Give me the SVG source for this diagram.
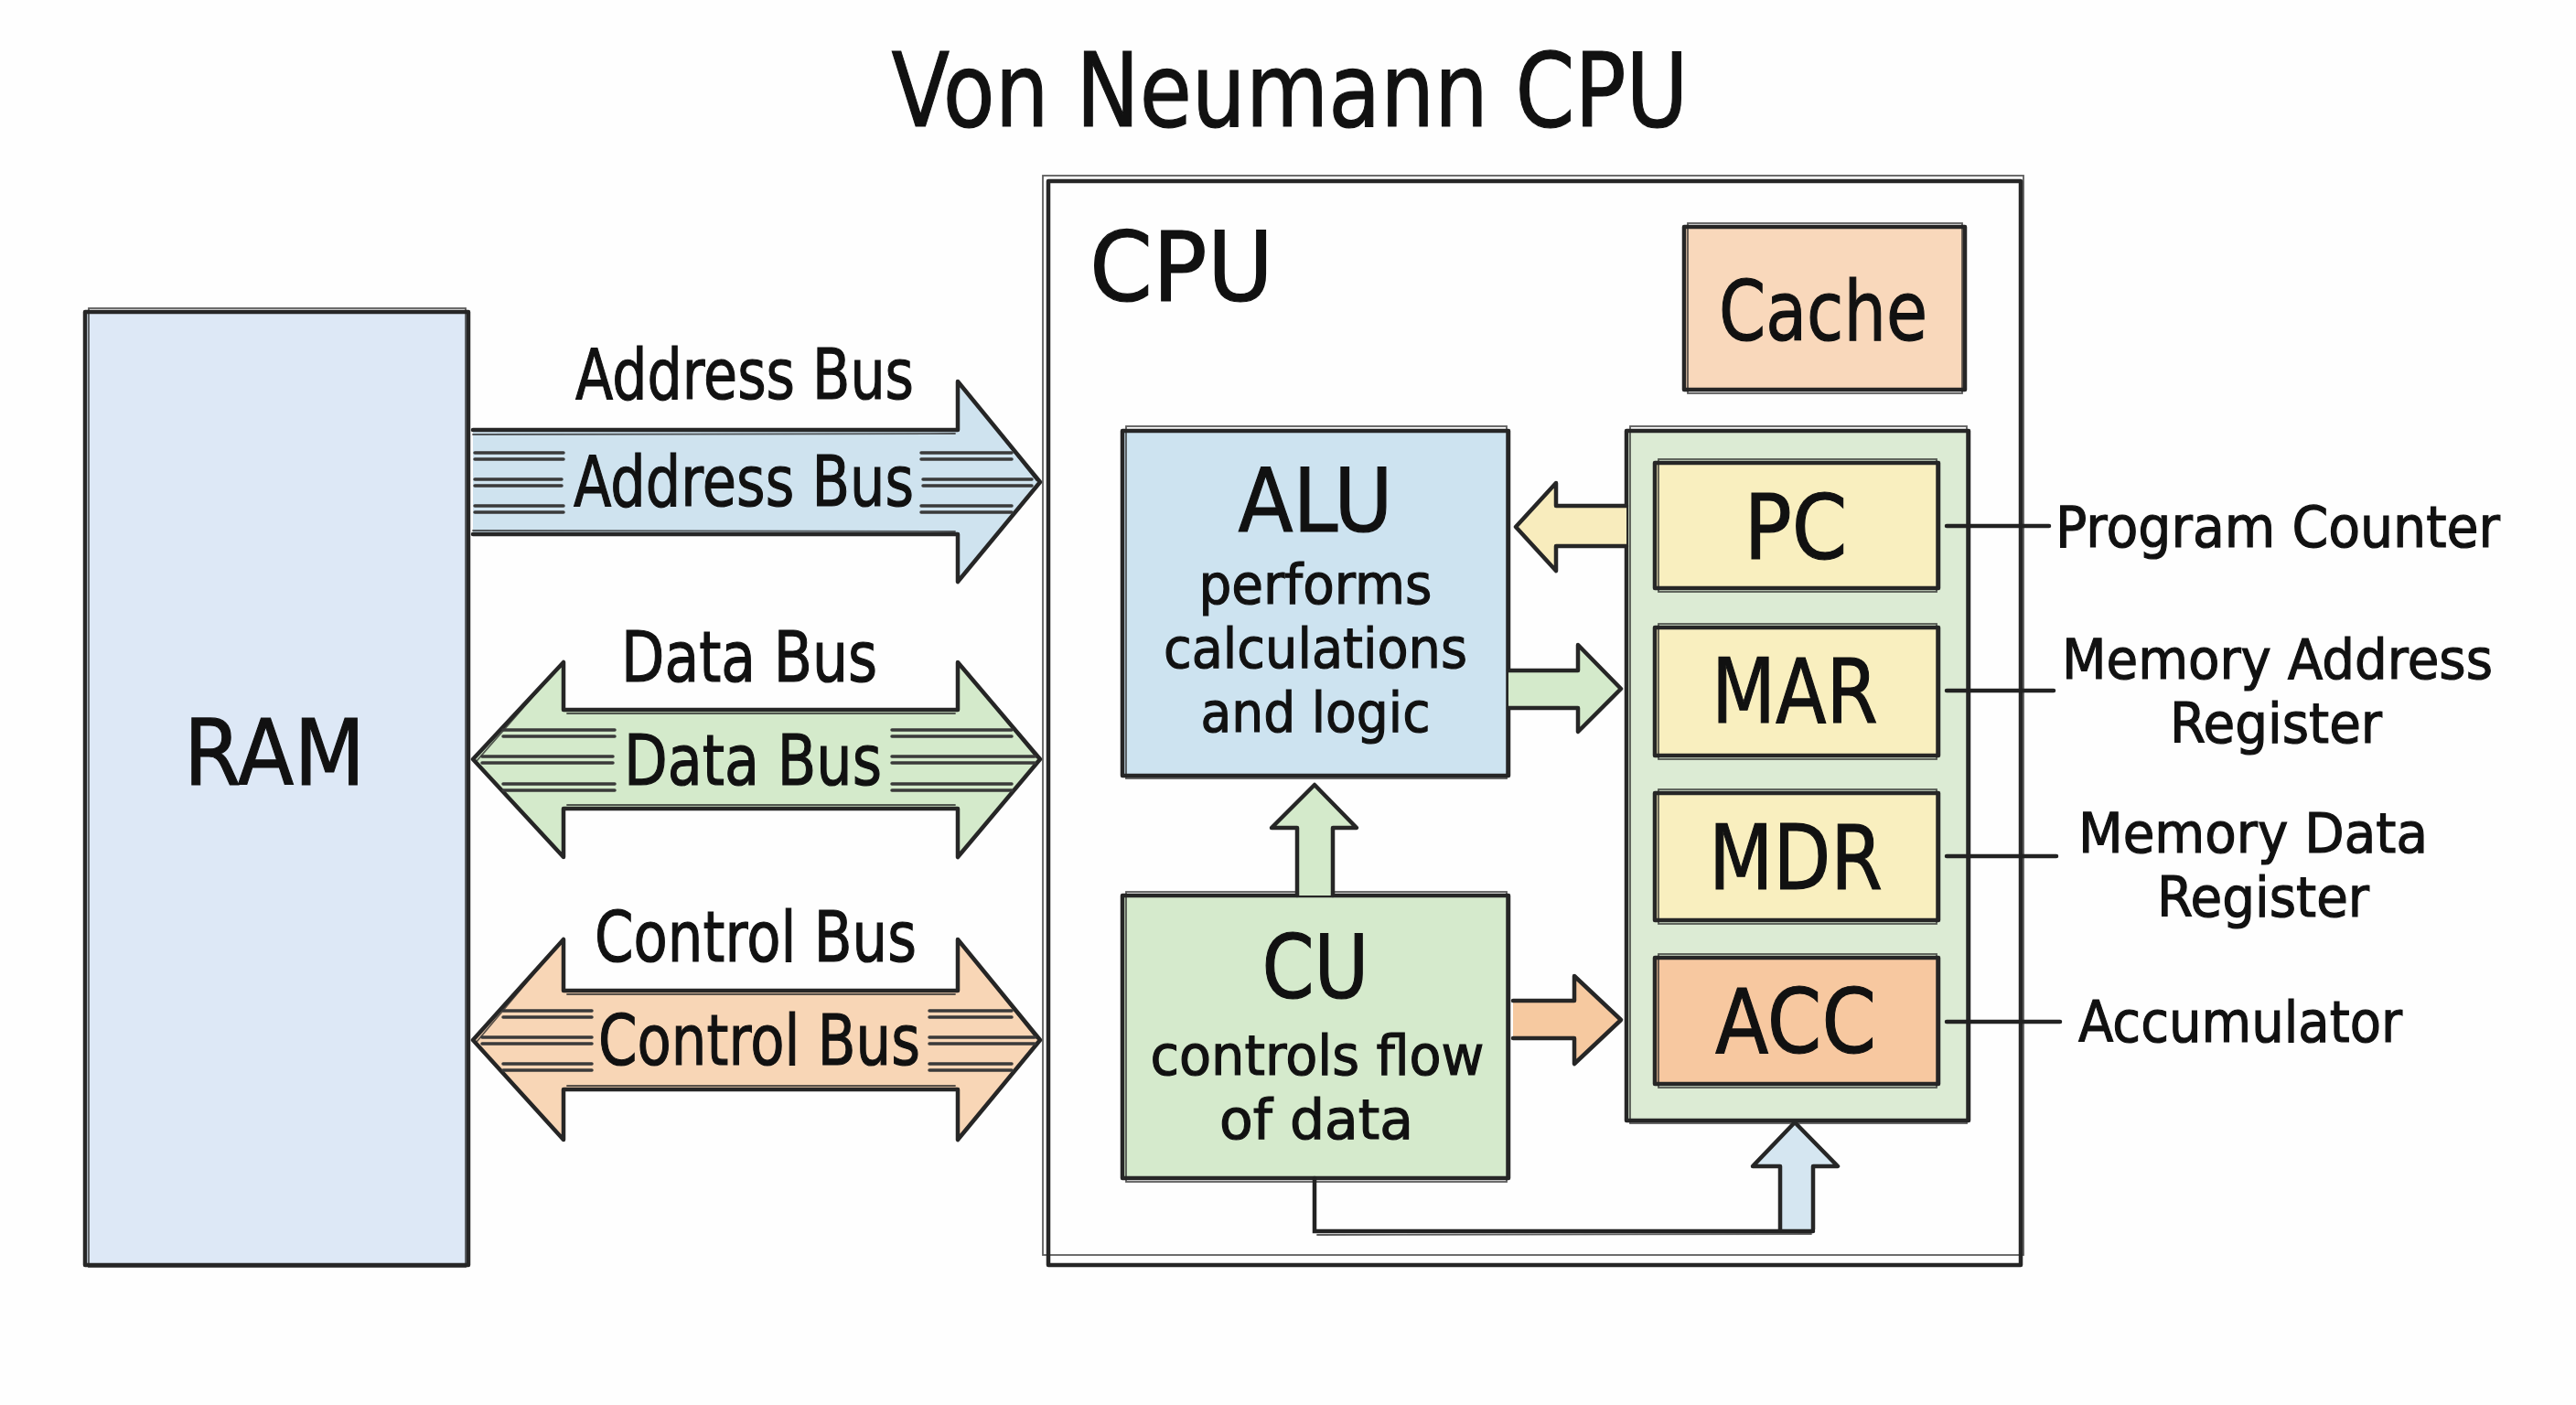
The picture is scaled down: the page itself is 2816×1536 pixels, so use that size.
<svg xmlns="http://www.w3.org/2000/svg" width="2816" height="1536" viewBox="0 0 2816 1536">
<defs>
<style>
.t{font-family:"DejaVu Sans","Open Sans",sans-serif;fill:#111;font-weight:normal;stroke:#111;stroke-width:1.2}
.sk{stroke:#262626;stroke-width:4.5;stroke-linejoin:round;stroke-linecap:round}
.sk2{fill:none;stroke:#262626;stroke-width:1.8;opacity:.75;stroke-linecap:round}
.st{stroke:#3a3a3a;stroke-width:3.5;stroke-linecap:round}
.ln{fill:none;stroke:#222;stroke-width:4.5;stroke-linecap:round}
</style>
</defs>
<rect width="2816" height="1536" fill="#fefefe"/>
<text class="t" x="1410" y="138" font-size="112" text-anchor="middle" textLength="871" lengthAdjust="spacingAndGlyphs">Von Neumann CPU</text>

<g id="ram">
<rect x="93" y="341" width="419" height="1042" fill="#dde8f6" class="sk"/>
<rect x="97" y="337" width="412" height="1048" class="sk2"/>
<text class="t" x="300" y="858" font-size="100" text-anchor="middle" textLength="198" lengthAdjust="spacingAndGlyphs">RAM</text>
</g>

<g id="cpu">
<rect x="1146" y="198" width="1063" height="1185" fill="none" class="sk"/>
<rect x="1140" y="192" width="1072" height="1180" class="sk2"/>
<text class="t" x="1191" y="329" font-size="105" textLength="201" lengthAdjust="spacingAndGlyphs">CPU</text>
</g>

<g id="cache">
<rect x="1841" y="248" width="307" height="178" fill="#f9d8bb" class="sk"/>
<rect x="1845" y="244" width="300" height="186" class="sk2"/>
<text class="t" x="1993" y="372" font-size="90" text-anchor="middle" textLength="228" lengthAdjust="spacingAndGlyphs">Cache</text>
</g>

<g id="registers">
<rect x="1778" y="471" width="374" height="754" fill="#dcebd4" class="sk"/>
<rect x="1782" y="466" width="368" height="762" class="sk2"/>
</g>

<g id="pc">
<rect x="1809" y="506" width="310" height="137" fill="#f9efbf" class="sk"/>
<rect x="1813" y="502" width="304" height="145" class="sk2"/>
<text class="t" x="1963" y="611" font-size="98" text-anchor="middle" textLength="113" lengthAdjust="spacingAndGlyphs">PC</text>
</g>
<g id="mar">
<rect x="1809" y="686" width="310" height="140" fill="#f9efbf" class="sk"/>
<rect x="1813" y="682" width="304" height="148" class="sk2"/>
<text class="t" x="1962" y="790" font-size="98" text-anchor="middle" textLength="182" lengthAdjust="spacingAndGlyphs">MAR</text>
</g>
<g id="mdr">
<rect x="1809" y="867" width="310" height="139" fill="#f9efbf" class="sk"/>
<rect x="1813" y="863" width="304" height="147" class="sk2"/>
<text class="t" x="1963" y="972" font-size="98" text-anchor="middle" textLength="190" lengthAdjust="spacingAndGlyphs">MDR</text>
</g>
<g id="acc">
<rect x="1809" y="1047" width="310" height="138" fill="#f7c8a0" class="sk"/>
<rect x="1813" y="1043" width="304" height="146" class="sk2"/>
<text class="t" x="1963" y="1151" font-size="98" text-anchor="middle" textLength="176" lengthAdjust="spacingAndGlyphs">ACC</text>
</g>

<g id="alu">
<rect x="1227" y="471" width="422" height="377" fill="#cde3f0" class="sk"/>
<rect x="1231" y="466" width="416" height="385" class="sk2"/>
<text class="t" x="1438" y="581" font-size="96" text-anchor="middle" textLength="169" lengthAdjust="spacingAndGlyphs">ALU</text>
<text class="t" x="1438" y="660" font-size="60" text-anchor="middle" textLength="255" lengthAdjust="spacingAndGlyphs">performs</text>
<text class="t" x="1438" y="730" font-size="60" text-anchor="middle" textLength="332" lengthAdjust="spacingAndGlyphs">calculations</text>
<text class="t" x="1438" y="800" font-size="60" text-anchor="middle" textLength="251" lengthAdjust="spacingAndGlyphs">and logic</text>
</g>

<g id="cu">
<rect x="1227" y="979" width="422" height="309" fill="#d5eacc" class="sk"/>
<rect x="1231" y="975" width="416" height="317" class="sk2"/>
<text class="t" x="1438" y="1091" font-size="96" text-anchor="middle" textLength="117" lengthAdjust="spacingAndGlyphs">CU</text>
<text class="t" x="1440" y="1175" font-size="60" text-anchor="middle" textLength="365" lengthAdjust="spacingAndGlyphs">controls flow</text>
<text class="t" x="1439" y="1245" font-size="60" text-anchor="middle" textLength="212" lengthAdjust="spacingAndGlyphs">of data</text>
</g>

<g id="labels">
<text class="t" x="2247" y="598" font-size="62" textLength="486" lengthAdjust="spacingAndGlyphs">Program Counter</text>
<text class="t" x="2254" y="742" font-size="60" textLength="471" lengthAdjust="spacingAndGlyphs">Memory Address</text>
<text class="t" x="2372" y="812" font-size="60" textLength="232" lengthAdjust="spacingAndGlyphs">Register</text>
<text class="t" x="2272" y="932" font-size="60" textLength="382" lengthAdjust="spacingAndGlyphs">Memory Data</text>
<text class="t" x="2358" y="1002" font-size="60" textLength="232" lengthAdjust="spacingAndGlyphs">Register</text>
<text class="t" x="2272" y="1139" font-size="62" textLength="354" lengthAdjust="spacingAndGlyphs">Accumulator</text>
</g>

<g id="connectors">
<!-- Address bus -->
<path d="M517,470 L1047,470 L1047,417 L1137,527 L1047,636 L1047,584 L517,584 Z" fill="#cfe3ef"/>
<path d="M517,470 L1047,470 L1047,417 L1137,527 L1047,636 L1047,584 L517,584" fill="none" class="sk"/>
<path d="M517,475 L1044,474 M1050,420 L1133,525 M517,580 L1044,581" class="sk2"/>
<g class="st">
<line x1="519" y1="495" x2="616" y2="495"/><line x1="519" y1="502" x2="616" y2="502"/>
<line x1="519" y1="524" x2="614" y2="524"/><line x1="519" y1="531" x2="614" y2="531"/>
<line x1="519" y1="553" x2="616" y2="553"/><line x1="519" y1="560" x2="616" y2="560"/>
<line x1="1007" y1="495" x2="1106" y2="495"/><line x1="1007" y1="502" x2="1106" y2="502"/>
<line x1="1009" y1="524" x2="1128" y2="524"/><line x1="1009" y1="531" x2="1128" y2="531"/>
<line x1="1007" y1="553" x2="1106" y2="553"/><line x1="1007" y1="560" x2="1106" y2="560"/>
</g>
<text class="t" x="814" y="436" font-size="76" text-anchor="middle" textLength="370" lengthAdjust="spacingAndGlyphs">Address Bus</text>
<text class="t" x="813" y="553" font-size="76" text-anchor="middle" textLength="372" lengthAdjust="spacingAndGlyphs">Address Bus</text>

<!-- Data bus -->
<path d="M517,830 L616,724 L616,776 L1047,776 L1047,724 L1137,830 L1047,937 L1047,884 L616,884 L616,937 Z" fill="#d4eacb" class="sk"/>
<path d="M521,832 L612,728 M620,780 L1044,780 M1050,728 L1133,828 M620,880 L1044,880 M612,933 L521,834" class="sk2"/>
<g class="st">
<line x1="550" y1="798" x2="672" y2="798"/><line x1="550" y1="805" x2="672" y2="805"/>
<line x1="527" y1="827" x2="670" y2="827"/><line x1="527" y1="834" x2="670" y2="834"/>
<line x1="550" y1="857" x2="672" y2="857"/><line x1="550" y1="864" x2="672" y2="864"/>
<line x1="975" y1="798" x2="1106" y2="798"/><line x1="975" y1="805" x2="1106" y2="805"/>
<line x1="975" y1="827" x2="1131" y2="827"/><line x1="975" y1="834" x2="1131" y2="834"/>
<line x1="975" y1="857" x2="1106" y2="857"/><line x1="975" y1="864" x2="1106" y2="864"/>
</g>
<text class="t" x="819" y="745" font-size="76" text-anchor="middle" textLength="280" lengthAdjust="spacingAndGlyphs">Data Bus</text>
<text class="t" x="823" y="858" font-size="76" text-anchor="middle" textLength="282" lengthAdjust="spacingAndGlyphs">Data Bus</text>

<!-- Control bus -->
<path d="M517,1137 L616,1027 L616,1083 L1047,1083 L1047,1027 L1137,1137 L1047,1246 L1047,1191 L616,1191 L616,1246 Z" fill="#f8d6b6" class="sk"/>
<path d="M521,1139 L612,1031 M620,1087 L1044,1087 M1050,1031 L1133,1135 M620,1187 L1044,1187 M612,1242 L521,1141" class="sk2"/>
<g class="st">
<line x1="550" y1="1105" x2="647" y2="1105"/><line x1="550" y1="1112" x2="647" y2="1112"/>
<line x1="527" y1="1134" x2="647" y2="1134"/><line x1="527" y1="1141" x2="647" y2="1141"/>
<line x1="550" y1="1163" x2="647" y2="1163"/><line x1="550" y1="1170" x2="647" y2="1170"/>
<line x1="1016" y1="1105" x2="1106" y2="1105"/><line x1="1016" y1="1112" x2="1106" y2="1112"/>
<line x1="1016" y1="1134" x2="1131" y2="1134"/><line x1="1016" y1="1141" x2="1131" y2="1141"/>
<line x1="1016" y1="1163" x2="1106" y2="1163"/><line x1="1016" y1="1170" x2="1106" y2="1170"/>
</g>
<text class="t" x="826" y="1051" font-size="76" text-anchor="middle" textLength="352" lengthAdjust="spacingAndGlyphs">Control Bus</text>
<text class="t" x="830" y="1164" font-size="76" text-anchor="middle" textLength="352" lengthAdjust="spacingAndGlyphs">Control Bus</text>

<!-- PC to ALU -->
<path d="M1778,553 L1701,553 L1701,528 L1657,576 L1701,624 L1701,597 L1778,597" fill="#f8ecbd" class="sk"/>
<!-- ALU to MAR -->
<path d="M1649,733 L1725,733 L1725,705 L1772,753 L1725,800 L1725,774 L1649,774" fill="#d4eacb" class="sk"/>
<!-- CU to ALU -->
<path d="M1418,979 L1418,905 L1390,905 L1437,858 L1483,905 L1457,905 L1457,979" fill="#d4eacb" class="sk"/>
<!-- CU to ACC -->
<path d="M1654,1094 L1721,1094 L1721,1067 L1772,1115 L1721,1163 L1721,1135 L1654,1135" fill="#f6c9a0" class="sk"/>
<!-- CU to registers (bottom) -->
<path d="M1946,1344 L1946,1275 L1916,1275 L1962,1227 L2009,1275 L1982,1275 L1982,1344" fill="#d5e6f1" class="sk"/>
<path d="M1437,1288 L1437,1346 L1982,1346" class="ln"/>
<path d="M1440,1350 L1980,1349" class="sk2"/>
<!-- leader lines -->
<path d="M2128,575 L2240,575 M2128,755 L2245,755 M2128,936 L2248,936 M2128,1117 L2252,1117" class="ln"/>
</g>
</svg>
